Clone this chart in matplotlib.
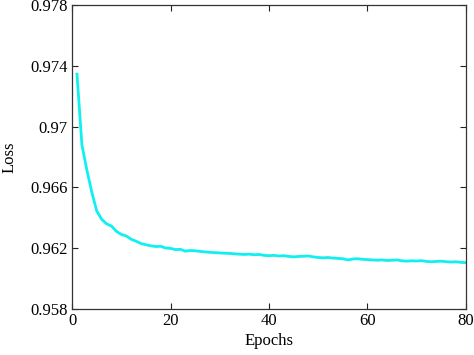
import matplotlib
matplotlib.use("Agg")
import matplotlib.pyplot as plt

plt.rcParams['font.family'] = ['Liberation Serif', 'DejaVu Serif']

epochs = list(range(1, 81))
loss = [
    0.97345, 0.96880, 0.96715, 0.96570, 0.96445, 0.96390, 0.96360, 0.96345, 0.96310, 0.96290,
    0.96280, 0.96258, 0.96245, 0.96230, 0.96222, 0.96215, 0.96210, 0.96212, 0.96200, 0.96198,
    0.96190, 0.96192, 0.96180, 0.96184, 0.96182, 0.96178, 0.96175, 0.96172, 0.96170, 0.96168,
    0.96166, 0.96165, 0.96162, 0.96160, 0.96158, 0.96160, 0.96156, 0.96158, 0.96152, 0.96150,
    0.96152, 0.96148, 0.96150, 0.96145, 0.96142, 0.96145, 0.96146, 0.96148, 0.96142, 0.96138,
    0.96136, 0.96138, 0.96134, 0.96132, 0.96130, 0.96122, 0.96128, 0.96130, 0.96126, 0.96124,
    0.96122, 0.96120, 0.96122, 0.96118, 0.96120, 0.96122, 0.96116, 0.96114, 0.96116, 0.96115,
    0.96117, 0.96112, 0.96110, 0.96112, 0.96114, 0.96110, 0.96108, 0.96110, 0.96106, 0.96104,
]
xticks = [0, 20, 40, 60, 80]
yticks = [0.958, 0.962, 0.966, 0.97, 0.974, 0.978]
ytick_labels = ['0.958', '0.962', '0.966', '0.97', '0.974', '0.978']

fig = plt.figure(figsize=(4.74, 3.55), dpi=100)
ax = fig.add_axes([0.152, 0.130, 0.831, 0.856])
ax.plot(epochs, loss, color='#10f0f0', linewidth=2.0)
ax.set_xlim(0, 80)
ax.set_ylim(0.958, 0.978)
ax.set_xticks(xticks)
ax.set_xticklabels([str(t) for t in xticks])
ax.set_yticks(yticks)
ax.set_yticklabels(ytick_labels)
ax.tick_params(direction='in', top=True, right=True, length=4, width=0.8,
               labelsize=12, colors='#222222', labelcolor='black', pad=3)
for s in ax.spines.values():
    s.set_linewidth(0.9)
    s.set_color('#333333')
ax.set_xlabel('Epochs', fontsize=12, labelpad=3)
ax.set_ylabel('Loss', fontsize=12, labelpad=9)
fig.savefig('out.png', dpi=100)
